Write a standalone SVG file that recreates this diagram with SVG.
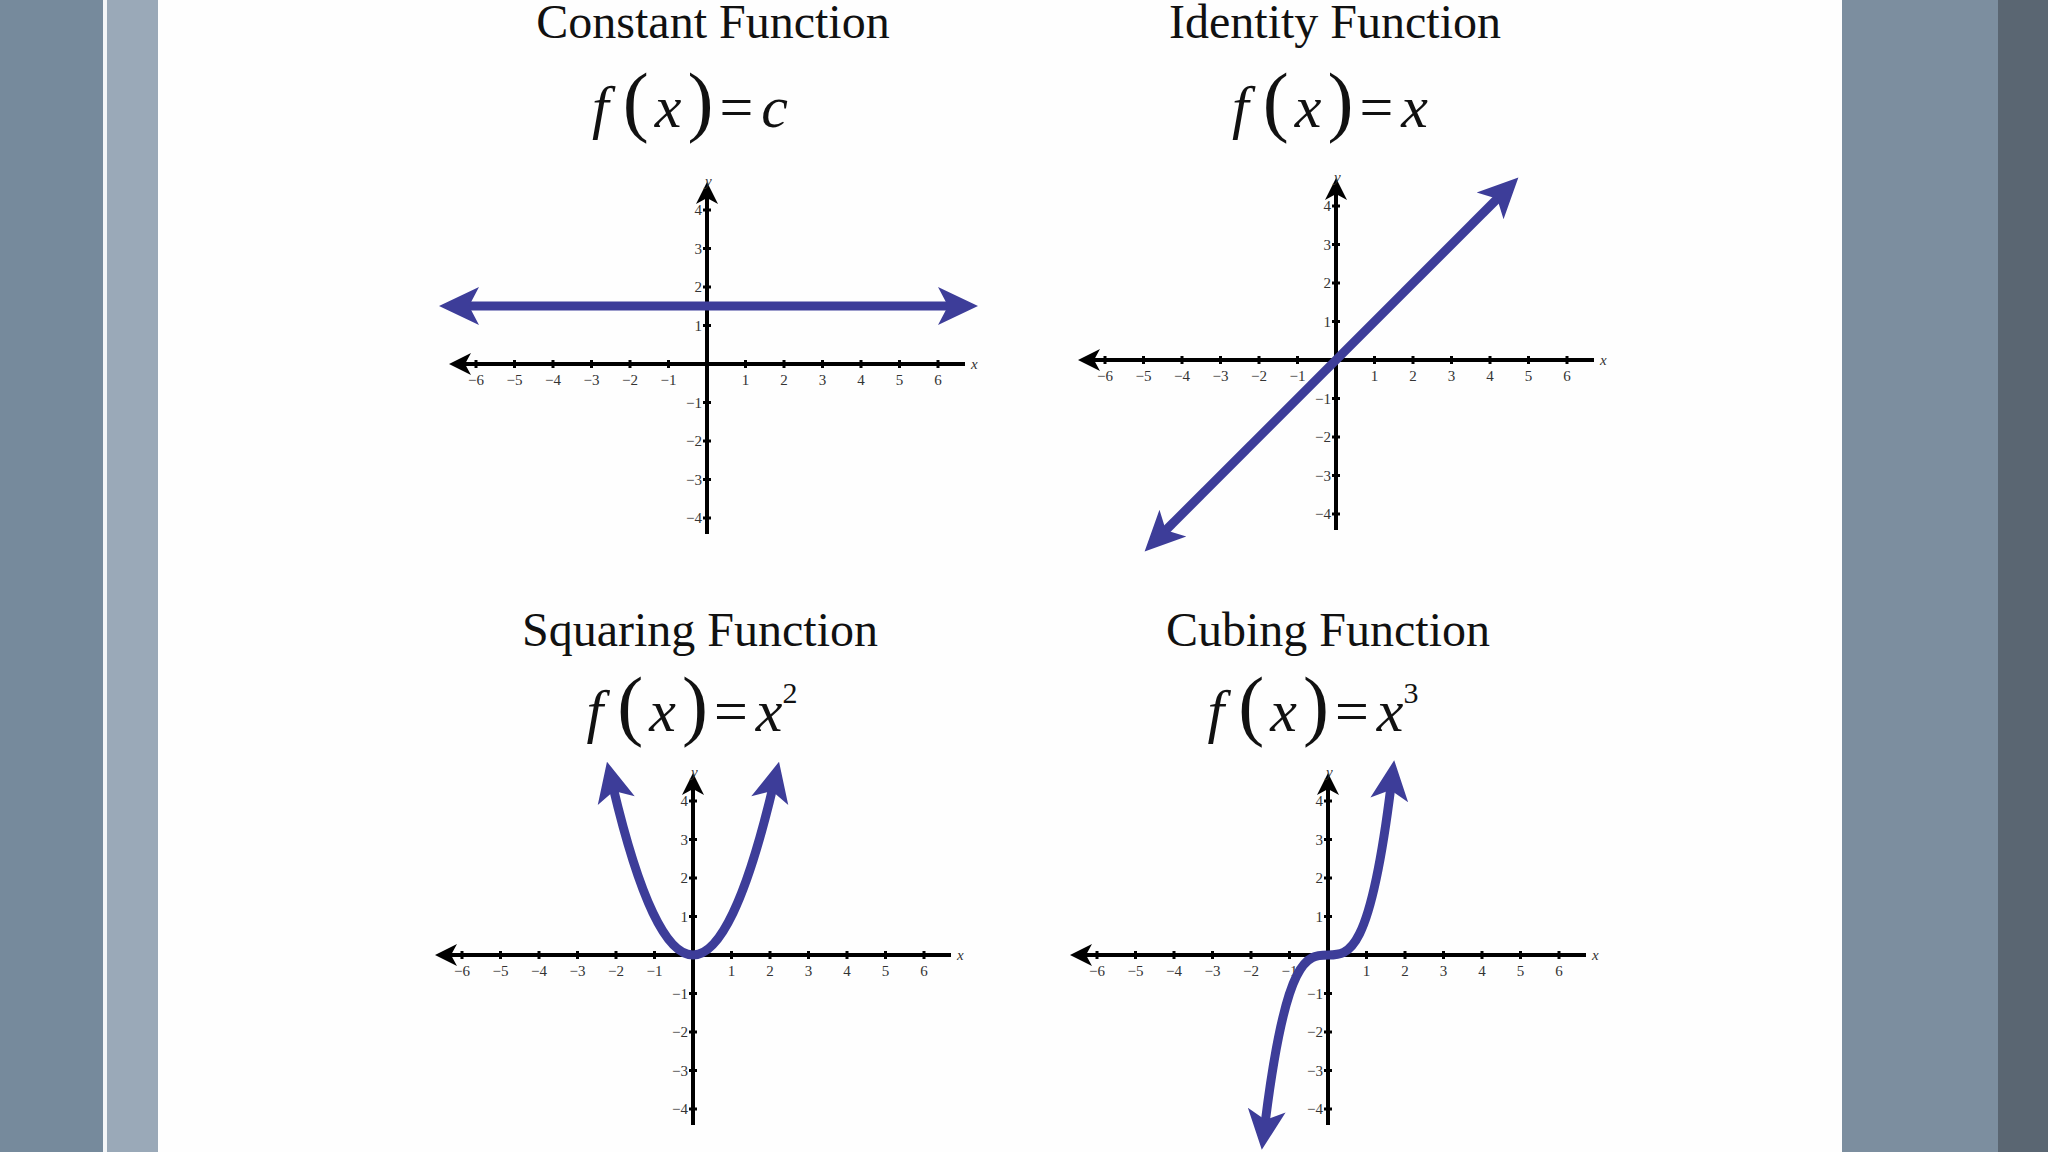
<svg xmlns="http://www.w3.org/2000/svg" xmlns:xlink="http://www.w3.org/1999/xlink" width="2048" height="1152" viewBox="0 0 2048 1152">
<style>
.title{font-family:"Liberation Serif",serif;font-size:48px;fill:#111;text-anchor:middle}
.fx{font-family:"Liberation Serif",serif;font-size:60px;fill:#111;text-anchor:middle}
.it{font-style:italic}
.par{font-size:78px;font-weight:100}
.tk{font-family:"Liberation Serif",serif;font-size:15px;fill:#333}
.ax{stroke:#000;stroke-width:4;fill:none}
.cv{stroke:#3d3d99;stroke-width:9;fill:none;marker-start:url(#bh);marker-end:url(#bh)}
</style>
<defs>
<marker id="bh" markerUnits="userSpaceOnUse" markerWidth="80" markerHeight="80" viewBox="-40 -40 80 80" refX="0" refY="0" orient="auto-start-reverse">
<path d="M26,0 L-14,-19 L-4,0 L-14,19 Z" fill="#3d3d99"/>
</marker>
<marker id="ah" markerUnits="userSpaceOnUse" markerWidth="40" markerHeight="40" viewBox="-20 -20 40 40" refX="0" refY="0" orient="auto-start-reverse">
<path d="M12,0 L-10,-11 L-4,0 L-10,11 Z" fill="#000"/>
</marker>
<g id="axes">
<path class="ax" d="M-246,0 H258 M0,170 V-170" style="marker-start:url(#ah);marker-end:url(#ah)"/>
<path stroke="#000" stroke-width="3" d="M-231,-4v8M-192.5,-4v8M-154,-4v8M-115.5,-4v8M-77,-4v8M-38.5,-4v8M38.5,-4v8M77,-4v8M115.5,-4v8M154,-4v8M192.5,-4v8M231,-4v8M-4,-154h8M-4,-115.5h8M-4,-77h8M-4,-38.5h8M-4,38.5h8M-4,77h8M-4,115.5h8M-4,154h8"/>
<g class="tk" text-anchor="middle">
<text x="-231" y="21">−6</text><text x="-192.5" y="21">−5</text><text x="-154" y="21">−4</text><text x="-115.5" y="21">−3</text><text x="-77" y="21">−2</text><text x="-38.5" y="21">−1</text>
<text x="38.5" y="21">1</text><text x="77" y="21">2</text><text x="115.5" y="21">3</text><text x="154" y="21">4</text><text x="192.5" y="21">5</text><text x="231" y="21">6</text>
</g>
<g class="tk" text-anchor="end">
<text x="-5" y="-149">4</text><text x="-5" y="-110">3</text><text x="-5" y="-72">2</text><text x="-5" y="-33">1</text>
<text x="-5" y="44">−1</text><text x="-5" y="82">−2</text><text x="-5" y="121">−3</text><text x="-5" y="159">−4</text>
</g>
<text class="tk" x="264" y="5" font-style="italic">x</text>
<text class="tk" x="-2" y="-178" font-style="italic">y</text>
</g>
</defs>
<rect width="2048" height="1152" fill="#fefefe"/>
<rect x="0" y="0" width="103" height="1152" fill="#768a9c"/>
<rect x="103" y="0" width="4" height="1152" fill="#f4f6f8"/>
<rect x="107" y="0" width="51" height="1152" fill="#9aa9b8"/>
<rect x="1842" y="0" width="156" height="1152" fill="#7c8e9f"/>
<rect x="1998" y="0" width="50" height="1152" fill="#5a6672"/>

<g id="constant">
<text class="title" x="713" y="38">Constant Function</text>
<text class="fx" x="690" y="127"><tspan class="it">f</tspan><tspan class="par" dx="14">(</tspan><tspan class="it" dx="6">x</tspan><tspan class="par" dx="6">)</tspan><tspan dx="6">=</tspan><tspan class="it" dx="8">c</tspan></text>
<use xlink:href="#axes" transform="translate(707,364)"/>
<path class="cv" d="M465,306 H952"/>
</g>
<g id="identity">
<text class="title" x="1335" y="38">Identity Function</text>
<text class="fx" x="1330" y="127"><tspan class="it">f</tspan><tspan class="par" dx="14">(</tspan><tspan class="it" dx="6">x</tspan><tspan class="par" dx="6">)</tspan><tspan dx="6">=</tspan><tspan class="it" dx="8">x</tspan></text>
<use xlink:href="#axes" transform="translate(1336,360)"/>
<path class="cv" d="M1163,533 L1500,196"/>
</g>
<g id="squaring">
<text class="title" x="700" y="646">Squaring Function</text>
<text class="fx" x="692" y="731"><tspan class="it">f</tspan><tspan class="par" dx="14">(</tspan><tspan class="it" dx="6">x</tspan><tspan class="par" dx="6">)</tspan><tspan dx="6">=</tspan><tspan class="it" dx="8">x</tspan><tspan font-size="30" dy="-28">2</tspan></text>
<use xlink:href="#axes" transform="translate(693,955)"/>
<path class="cv" d="M613,787 Q693,1123 773,787"/>
</g>
<g id="cubing">
<text class="title" x="1328" y="646">Cubing Function</text>
<text class="fx" x="1313" y="731"><tspan class="it">f</tspan><tspan class="par" dx="14">(</tspan><tspan class="it" dx="6">x</tspan><tspan class="par" dx="6">)</tspan><tspan dx="6">=</tspan><tspan class="it" dx="8">x</tspan><tspan font-size="30" dy="-28">3</tspan></text>
<use xlink:href="#axes" transform="translate(1328,955)"/>
<path class="cv" d="M1265,1124 C1307,786 1349,1124 1391,786"/>
</g>
</svg>
